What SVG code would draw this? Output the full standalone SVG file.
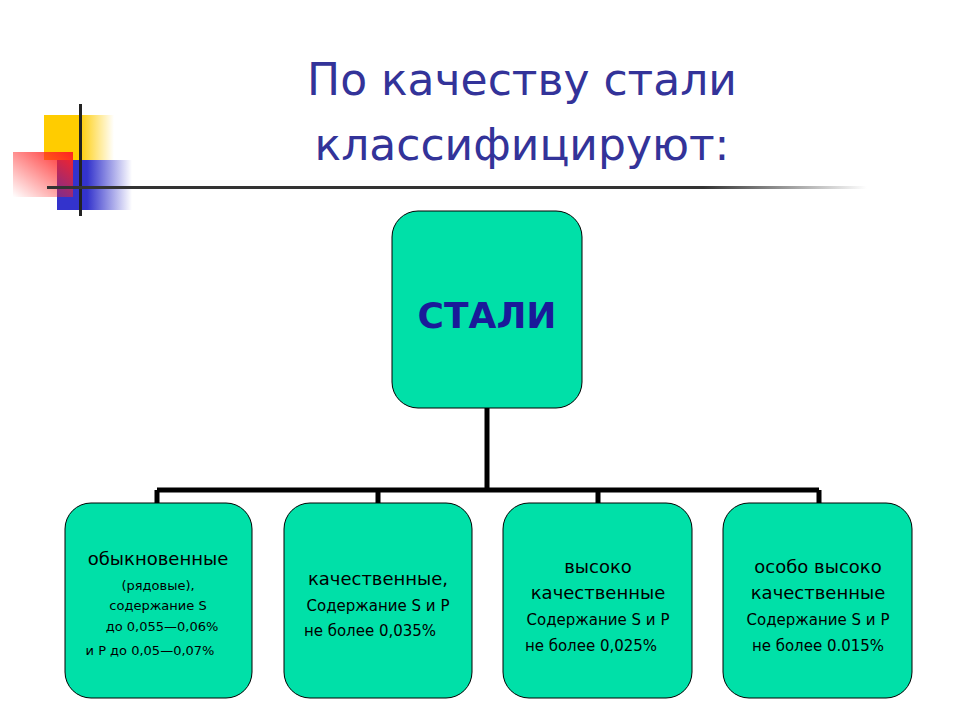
<svg xmlns="http://www.w3.org/2000/svg" width="960" height="720" viewBox="0 0 960 720">
<defs>
<linearGradient id="gy" x1="0" x2="1" y1="0" y2="0"><stop offset="0.5" stop-color="#ffcc00"/><stop offset="1" stop-color="#ffcc00" stop-opacity="0"/></linearGradient>
<linearGradient id="gb" x1="0" x2="1" y1="0" y2="0"><stop offset="0.4" stop-color="#3333cc"/><stop offset="1" stop-color="#3333cc" stop-opacity="0"/></linearGradient>
<linearGradient id="gr" x1="1" x2="0" y1="0" y2="1"><stop offset="0" stop-color="#ff2222"/><stop offset="1" stop-color="#ff2222" stop-opacity="0"/></linearGradient>
<linearGradient id="gl" x1="0" x2="1"><stop offset="0" stop-color="#333"/><stop offset="0.8" stop-color="#333"/><stop offset="1" stop-color="#333" stop-opacity="0"/></linearGradient>
<style>
.box{fill:#00e0a8;stroke:#000;stroke-width:1}
.t{font-family:"DejaVu Sans",Verdana,sans-serif;fill:#000;text-anchor:middle}
.c{stroke:#000;stroke-width:5;fill:none}
</style>
</defs>
<g id="decor">
<rect x="44" y="115" width="70" height="45" fill="url(#gy)"/>
<rect x="57" y="160" width="75" height="50" fill="url(#gb)"/>
<rect x="13" y="152" width="60" height="45" fill="url(#gr)"/>
<rect x="79" y="104" width="3" height="112" fill="#222"/>
<rect x="47" y="186" width="820" height="3" fill="url(#gl)"/>
</g>
<g id="title" font-family="DejaVu Sans,Verdana,sans-serif" font-size="44" fill="#333399" text-anchor="middle">
<text x="522" y="95">По качеству стали</text>
<text x="522" y="160">классифицируют:</text>
</g>
<g id="connectors">
<path class="c" d="M487 408V490M157 490H819M157 490V503M378 490V503M598 490V503M819 490V503"/>
</g>
<g id="root"><rect class="box" x="392" y="211" width="190" height="197" rx="26"/>
<text class="t" x="487" y="328" font-size="36" font-weight="bold" fill="#1a1aa0" style="fill:#1a1a99">СТАЛИ</text></g>
<g id="n1"><rect class="box" x="65" y="503" width="187" height="195" rx="26"/>
<text class="t" x="158" y="565" font-size="18">обыкновенные</text>
<text class="t" x="158" y="590" font-size="13">(рядовые),</text>
<text class="t" x="158" y="610" font-size="13">содержание S</text>
<text class="t" x="162" y="631" font-size="13">до 0,055—0,06%</text>
<text class="t" x="150" y="655" font-size="13">и P до 0,05—0,07%</text></g>
<g id="n2"><rect class="box" x="284" y="503" width="188" height="195" rx="26"/>
<text class="t" x="378" y="585" font-size="18">качественные,</text>
<text class="t" x="378" y="611" font-size="15">Содержание S и P</text>
<text class="t" x="370" y="636" font-size="15">не более 0,035%</text></g>
<g id="n3"><rect class="box" x="503" y="503" width="189" height="195" rx="26"/>
<text class="t" x="598" y="573" font-size="18">высоко</text>
<text class="t" x="598" y="599" font-size="18">качественные</text>
<text class="t" x="598" y="625" font-size="15">Содержание S и P</text>
<text class="t" x="591" y="651" font-size="15">не более 0,025%</text></g>
<g id="n4"><rect class="box" x="723" y="503" width="189" height="195" rx="26"/>
<text class="t" x="818" y="573" font-size="18">особо высоко</text>
<text class="t" x="818" y="599" font-size="18">качественные</text>
<text class="t" x="818" y="625" font-size="15">Содержание S и P</text>
<text class="t" x="818" y="651" font-size="15">не более 0.015%</text></g>
</svg>
